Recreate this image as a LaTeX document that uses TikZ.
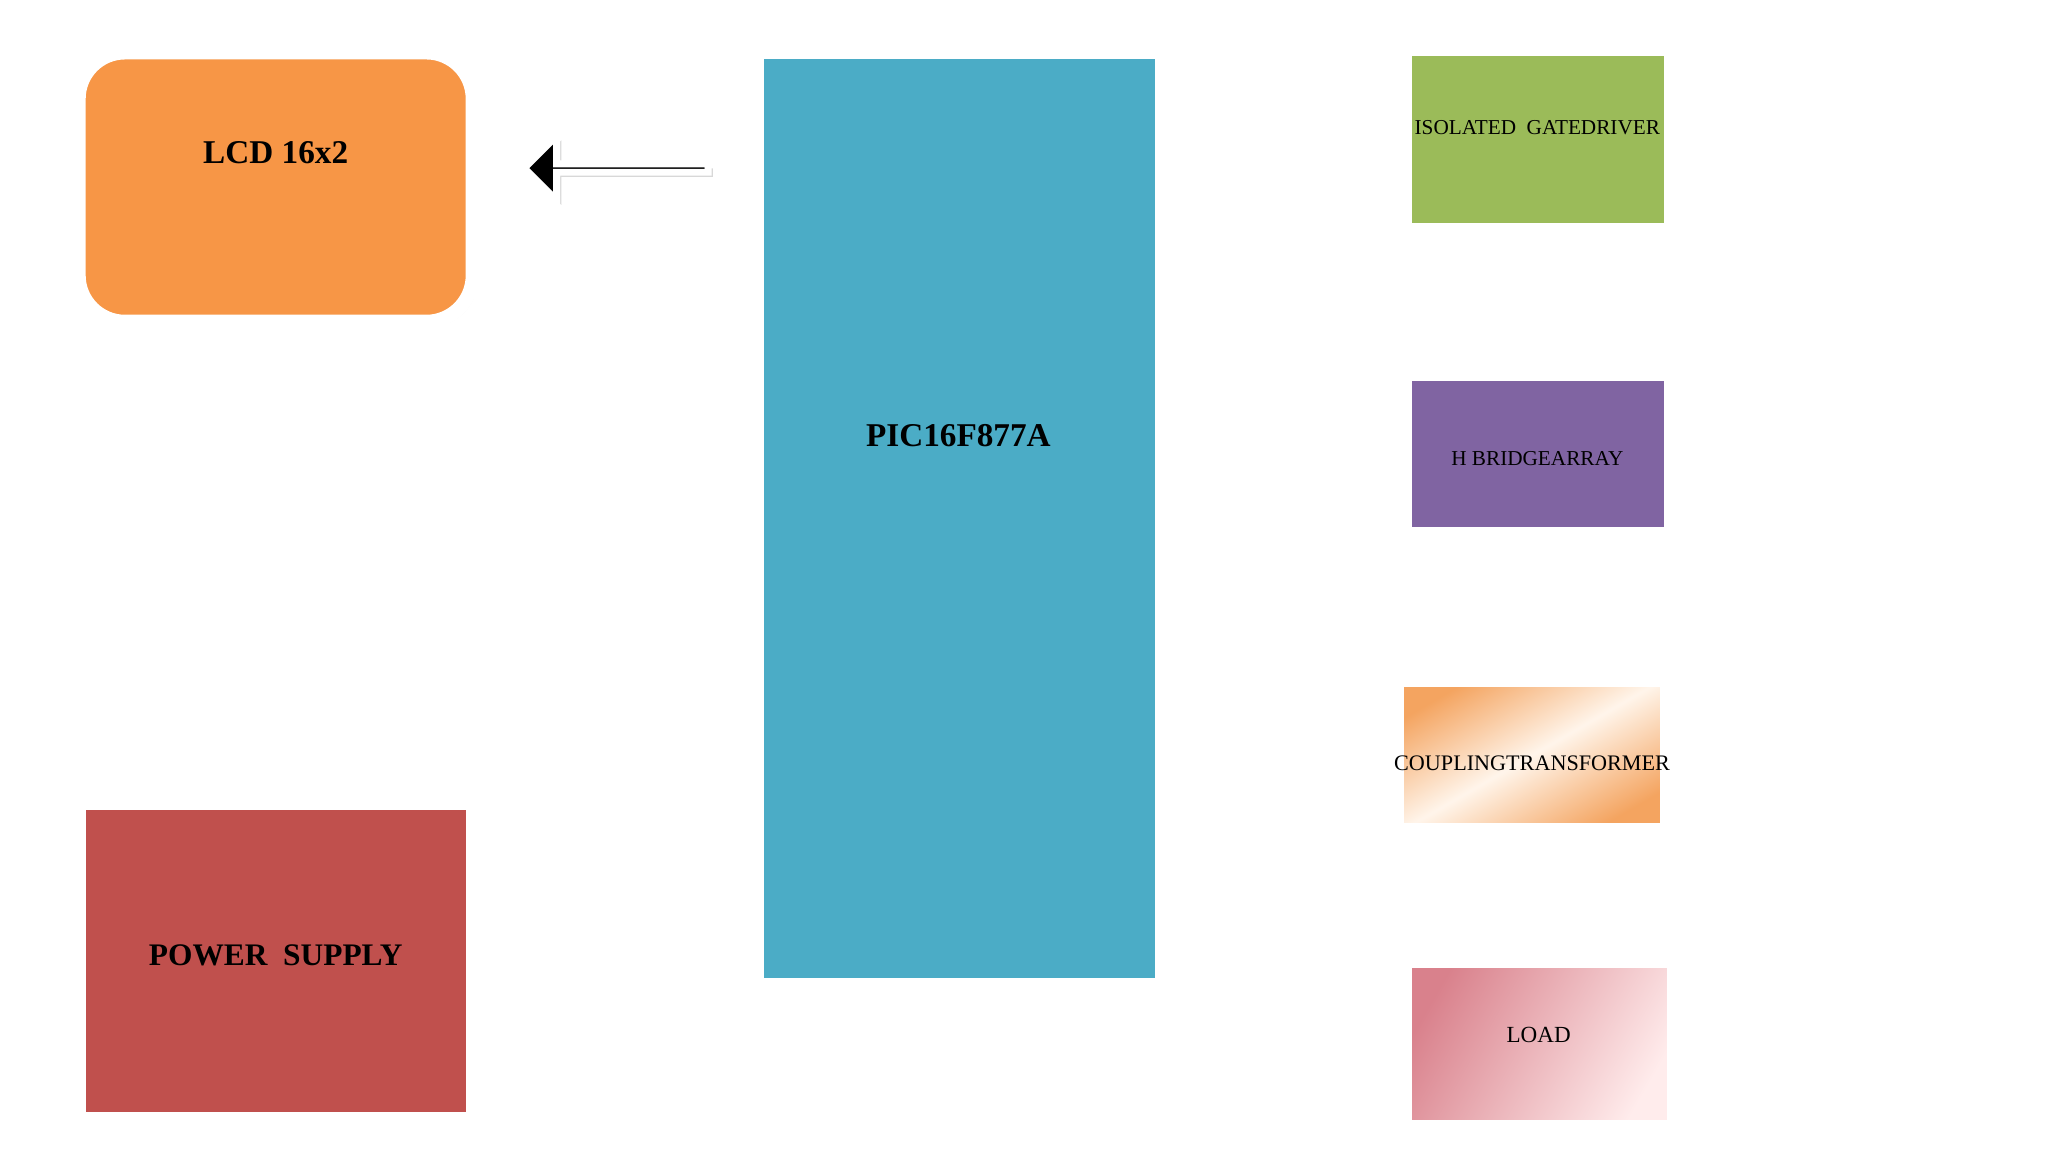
\documentclass[tikz,border=0pt]{standalone}
\usepackage{fontspec}
\setmainfont{Liberation Serif}
\usetikzlibrary{shapes.arrows,shadows}
\definecolor{lcdc}{HTML}{F79646}
\definecolor{pwrc}{HTML}{C0504D}
\definecolor{picc}{HTML}{4BACC6}
\definecolor{grnc}{HTML}{9BBB59}
\definecolor{purc}{HTML}{8064A2}
\definecolor{orgc}{HTML}{F4A460}
\definecolor{pnkc}{HTML}{D9818C}
\tikzset{
 blk/.style={draw=white,line width=3pt,drop shadow={shadow xshift=1pt,shadow yshift=-1pt,fill=gray!50},inner sep=0pt,align=center},
 barrow/.style={single arrow,fill=black,draw=white,line width=1.5pt,drop shadow={shadow xshift=1pt,shadow yshift=-1pt,fill=gray!60},single arrow head extend=5pt,minimum width=14pt,inner sep=0pt,anchor=center}
}
\begin{document}
\begin{tikzpicture}[x=0.01cm,y=-0.01cm]
\useasboundingbox (0,0) rectangle (1560,877.5);
\node[blk,fill=lcdc,rounded corners=12pt,minimum width=300\pgflinewidth/3,text width=0pt] (lcd) at (210,142) {};
\path[blk,fill=lcdc,rounded corners=10pt] (60,40) rectangle (360,245);
\node[font=\bfseries\fontsize{7.2}{8}\selectfont] (lcdt) at (210,116) {LCD 16x2};
\path[blk,fill=pwrc] (60,612) rectangle (360,852);
\node[font=\bfseries\fontsize{6.8}{8}\selectfont] (pwr) at (210,728) {POWER\ \ SUPPLY};
\path[blk,fill=picc] (577,40) rectangle (885,750);
\node[font=\bfseries\fontsize{7.2}{8}\selectfont] (pic) at (730,332) {PIC16F877A};
\path[blk,fill=grnc] (1070,37) rectangle (1273,175);
\node[font=\fontsize{4.6}{9}\selectfont] (gd) at (1171,97) {ISOLATED\ \ GATE\\DRIVER};
\path[blk,fill=purc] (1070,285) rectangle (1273,407);
\node[font=\fontsize{4.6}{9.5}\selectfont] (hb) at (1171,349) {H BRIDGE\\ARRAY};
\path[blk,draw=white,shading=axis,left color=orgc,right color=orgc,middle color=orange!8,shading angle=30] (1064,518) rectangle (1270,632);
\node[font=\fontsize{4.8}{6.5}\selectfont] (ct) at (1167,581) {COUPLING\\TRANSFORMER};
\path[blk,shading=axis,left color=pnkc,right color=pink!30,shading angle=60] (1070,732) rectangle (1275,858);
\node[font=\fontsize{5}{6}\selectfont] (ld) at (1172,788) {LOAD};
\node[barrow,minimum height=140\pgflinewidth/1.5pt*0.01cm,shape border rotate=180] (a1) at (471,128) {};
\end{tikzpicture}
\end{document}
